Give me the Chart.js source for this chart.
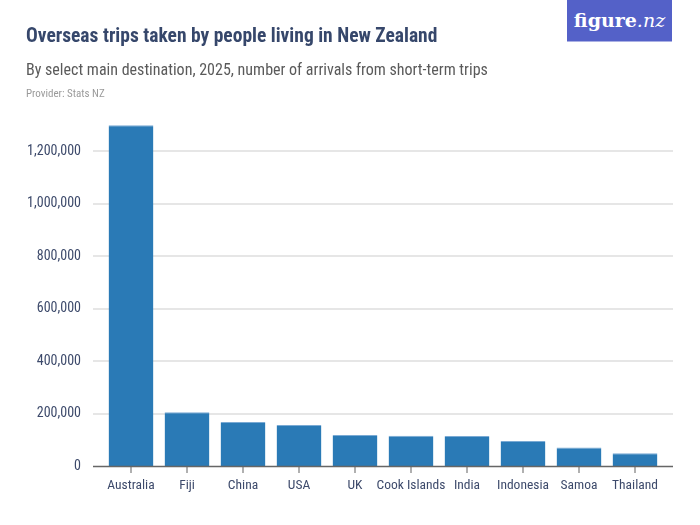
<!DOCTYPE html>
<html>
<head>
<meta charset="utf-8">
<script src="https://cdn.jsdelivr.net/npm/chart.js@4"></script>
<style>
  body { margin: 0; background: #fff; }
  #wrap { position: relative; width: 700px; height: 525px; overflow: hidden; }
  #chart { position: absolute; left: 0; top: 0; }
  .txt { position: absolute; left: 26px; white-space: nowrap; font-family: "Roboto Condensed", sans-serif; }
  #title { top: 24px; font-size: 19.5px; font-weight: bold; color: #36476b; }
  #subtitle { top: 60px; font-size: 16px; color: #5a5a5a; }
  #provider { top: 87px; font-size: 11px; color: #9a9a9a; }
  #logo { position: absolute; left: 567px; top: 0; width: 105px; height: 42px; background: #5461c8;
          color: #fff; font-family: "DejaVu Serif", "Liberation Serif", serif; font-size: 19px; font-weight: bold;
          text-align: center; line-height: 40px; border-bottom: 1px solid #aab0e4; box-sizing: border-box; }
  #logo i { font-weight: normal; }
</style>
</head>
<body>
<div id="wrap">
  <canvas id="chart" width="700" height="525"></canvas>
  <div class="txt" id="title">Overseas trips taken by people living in New Zealand</div>
  <div class="txt" id="subtitle">By select main destination, 2025, number of arrivals from short-term trips</div>
  <div class="txt" id="provider">Provider: Stats NZ</div>
  <div id="logo">figure<i>.nz</i></div>
</div>
<script>
// destinations and short-term arrivals
const destinations = ['Australia', 'Fiji', 'China', 'USA', 'UK', 'Cook Islands', 'India', 'Indonesia', 'Samoa', 'Thailand'];
const arrivals = [1299000, 205000, 168000, 156000, 118000, 115000, 114000, 95000, 71000, 49000];
const yTickStep = 200000;

const fontFamily = '"Roboto Condensed", sans-serif';

// grid lines and axis line overhang the plot area a little, like the original
const gridPlugin = {
  id: 'gridPlugin',
  beforeDatasetsDraw(chart) {
    const { ctx, chartArea, scales } = chart;
    ctx.save();
    ctx.strokeStyle = '#e6e6e6';
    ctx.lineWidth = 2;
    scales.y.ticks.forEach(t => {
      if (t.value > 0 && t.value % yTickStep === 0) {
        const y = Math.round(scales.y.getPixelForValue(t.value));
        ctx.beginPath();
        ctx.moveTo(chartArea.left - 10, y);
        ctx.lineTo(chartArea.right + 10, y);
        ctx.stroke();
      }
    });
    ctx.restore();
  },
  afterDatasetsDraw(chart) {
    const { ctx, chartArea, scales } = chart;
    const y = Math.round(scales.y.getPixelForValue(0)) + 0.5;
    ctx.save();
    ctx.strokeStyle = '#666';
    ctx.lineWidth = 1.5;
    ctx.beginPath();
    ctx.moveTo(chartArea.left - 10, y);
    ctx.lineTo(chartArea.right + 10, y);
    ctx.stroke();
    ctx.restore();
  }
};

new Chart(document.getElementById('chart').getContext('2d'), {
  type: 'bar',
  data: {
    labels: destinations,
    datasets: [{
      label: 'Arrivals',
      data: arrivals,
      backgroundColor: '#2a7ab6',
      borderColor: '#7aaad4',
      borderWidth: { top: 1, left: 0, right: 0, bottom: 0 },
      categoryPercentage: 0.8,
      barPercentage: 1.0
    }]
  },
  options: {
    responsive: false,
    animation: false,
    layout: { padding: { top: 125, right: 37, left: 0, bottom: 0 } },
    plugins: { legend: { display: false }, tooltip: { enabled: false } },
    scales: {
      x: {
        grid: { offset: false, drawOnChartArea: false, drawTicks: true, tickLength: 7, color: '#b0b0b0', lineWidth: 2 },
        border: { display: false },
        ticks: { color: '#3d4a6b', font: { family: fontFamily, size: 13.5 }, padding: 5, maxRotation: 0, autoSkip: false },
        afterFit: s => { s.height = 59; }
      },
      y: {
        min: 0,
        max: 1300000,
        grid: { display: false },
        border: { display: false },
        ticks: {
          stepSize: 100000,
          color: '#3d4a6b',
          font: { family: fontFamily, size: 14 },
          padding: 14,
          callback: v => (v % yTickStep === 0 ? v.toLocaleString('en-US') : '')
        },
        afterFit: s => { s.width = 103; }
      }
    }
  },
  plugins: [gridPlugin]
});
</script>
</body>
</html>
